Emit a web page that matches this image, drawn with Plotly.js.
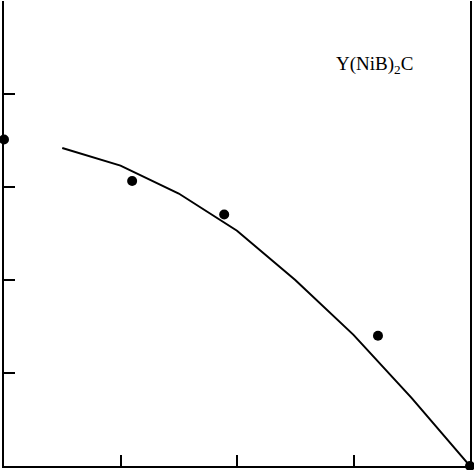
<!DOCTYPE html>
<html>
<head>
<meta charset="utf-8">
<script src="https://cdn.plot.ly/plotly-3.0.1.min.js"></script>
<style>html,body{margin:0;padding:0;background:#fff;}</style>
</head>
<body>
<div id="chart" style="width:474px;height:470px;"></div>
<script>
// Calculated curve
const curveX = [0.5, 1.0, 1.5, 2.0, 2.5, 3.0, 3.5, 4.0];
const curveY = [3.42, 3.23, 2.93, 2.53, 2.0, 1.41, 0.73, 0.0];
// Experimental points
const pointsX = [0.0, 1.1, 1.89, 3.21, 4.0];
const pointsY = [3.51, 3.065, 2.705, 1.40, 0.0];
const xTicks = [0, 1, 2, 3, 4];
const yTicks = [0, 1, 2, 3, 4, 5];
const label = 'Y(NiB)<sub>2</sub>C';

const traces = [
  {x: curveX, y: curveY, mode: 'lines', type: 'scatter',
   line: {color: '#000', width: 2}, hoverinfo: 'skip'},
  {x: pointsX, y: pointsY, mode: 'markers', type: 'scatter', cliponaxis: false,
   marker: {color: '#000', size: 10}, hoverinfo: 'skip'}
];

const layout = {
  width: 474, height: 470,
  margin: {l: 4, r: 4, t: 1, b: 4, pad: 0},
  paper_bgcolor: '#fff', plot_bgcolor: '#fff',
  showlegend: false,
  xaxis: {range: [0, 4], showgrid: false, zeroline: false,
    showline: true, linecolor: '#000', linewidth: 2,
    ticks: 'inside', ticklen: 11, tickwidth: 2, tickcolor: '#000',
    tickvals: xTicks, showticklabels: false},
  yaxis: {range: [0, 5], showgrid: false, zeroline: false,
    showline: true, mirror: true, linecolor: '#000', linewidth: 2,
    ticks: 'inside', ticklen: 11, tickwidth: 2, tickcolor: '#000',
    tickvals: yTicks, showticklabels: false},
  annotations: [{x: 3.18, y: 4.31, xref: 'x', yref: 'y', text: label,
    showarrow: false, xanchor: 'center', yanchor: 'middle',
    font: {family: 'Liberation Serif, Times New Roman, serif', size: 19, color: '#000'}}]
};

Plotly.newPlot('chart', traces, layout, {staticPlot: true, displayModeBar: false});
</script>
</body>
</html>
